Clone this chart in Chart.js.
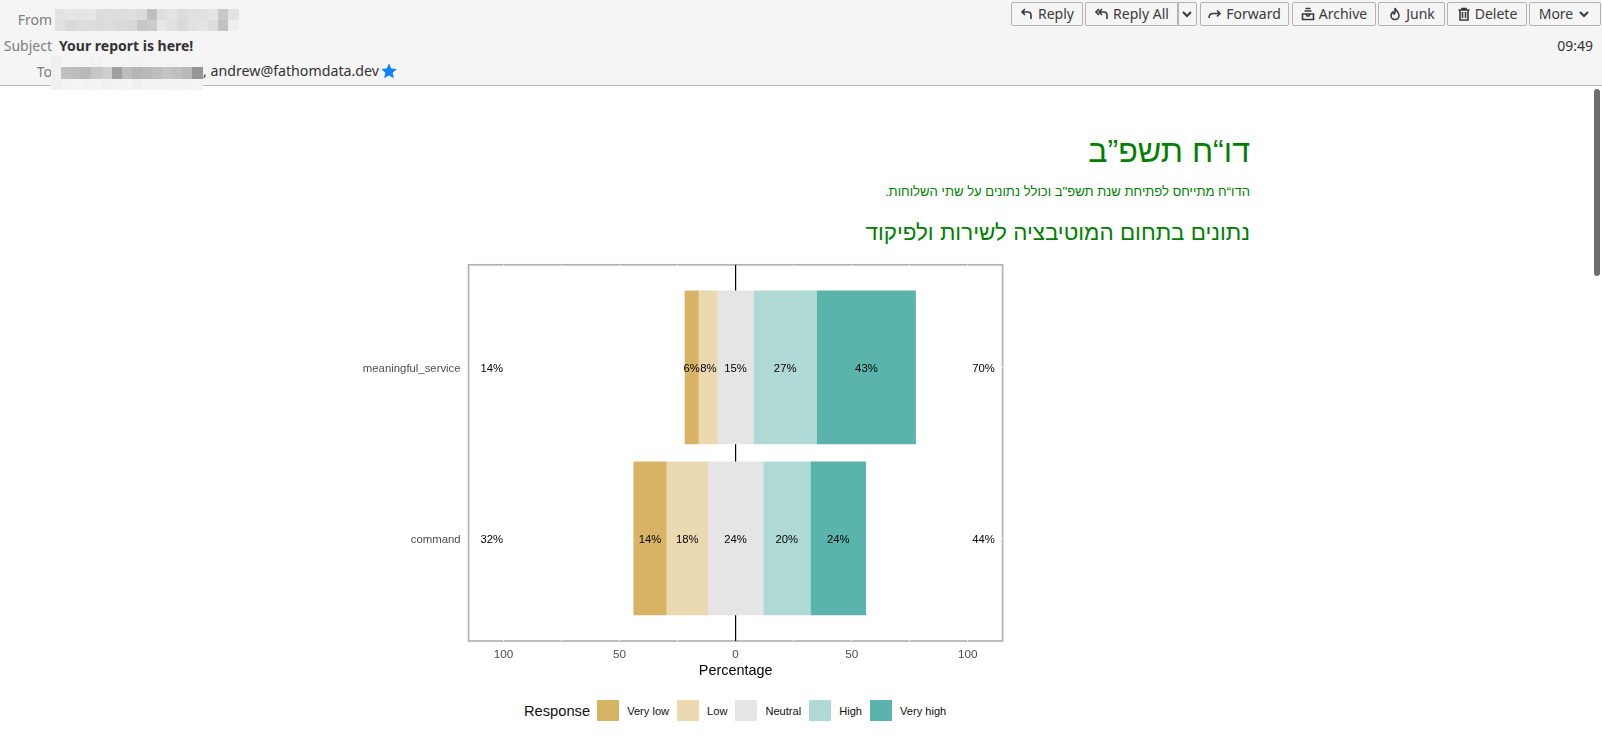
<!DOCTYPE html>
<html>
<head>
<meta charset="utf-8">
<title>Your report is here!</title>
<script src="https://cdn.jsdelivr.net/npm/chart.js"></script>
<style>
  html, body { margin: 0; height: 100%; overflow: hidden; background: #fff; }
  body { position: relative; width: 1602px; height: 738px; font-family: "Noto Sans", sans-serif; }
  #header { position: absolute; left: 0; top: 0; width: 1602px; height: 85px; background: #f5f5f5; border-bottom: 1px solid #b9b9b9; font-size: 14px; color: #333; }
  .field { position: absolute; line-height: 20px; white-space: nowrap; }
  .name { color: #7d7d7d; text-align: right; width: 52px; left: 0; }
  .btn { position: absolute; top: 2px; height: 22px; box-sizing: content-box; border: 1px solid #b4b4b4; border-radius: 2px; display: flex; align-items: center; justify-content: center; gap: 4px; color: #3a3a3a; line-height: 22px; white-space: nowrap; }
  .btn svg { width: 14px; height: 14px; fill: none; stroke: #3a3a3a; stroke-width: 1.6; }
  #mosaic { position: absolute; left: 0; top: 0; }
  #mosaic i { position: absolute; display: block; }
  .he { position: absolute; right: 352px; direction: rtl; color: #008000; font-family: "Liberation Sans", sans-serif; white-space: nowrap; line-height: 1; }
  #chartWrap { position: absolute; left: 340px; top: 250px; width: 700px; height: 436px; }
  #legend { position: absolute; left: 524px; top: 700px; height: 21px; display: flex; align-items: center; gap: 8px; font-family: "Liberation Sans", sans-serif; font-size: 11.1px; color: #111; white-space: nowrap; }
  #legend b { font-weight: normal; font-size: 14.7px; margin-right: -1px; }
  #legend i { display: block; width: 22px; height: 21px; }
  #scroll { position: absolute; left: 1594px; top: 89px; width: 6px; height: 187px; border-radius: 3px; background: #6e6e6e; }
</style>
</head>
<body>

<div id="header">
  <div class="field name" style="top:10px">From</div>
  <div class="field name" style="top:36px">Subject</div>
  <div class="field name" style="top:62px">To</div>
  <div class="field" style="left:59px;top:36px;font-weight:700">Your report is here!</div>
  <div class="field" style="left:203px;top:61px;font-size:14.2px">, andrew@fathomdata.dev</div>
  <svg style="position:absolute;left:381px;top:63px;width:16px;height:16px" viewBox="0 0 16 16"><path fill="#0a84ff" d="M8 .5l2.3 5 5.4.6-4 3.7 1.1 5.4L8 12.5l-4.800 2.700 1.100-5.400-4-3.700 5.400-.6z"/></svg>
  <div class="field" style="right:9px;top:36px">09:49</div>

  <div class="btn" style="left:1011px;width:70px"><svg viewBox="0 0 14 14"><path d="M5 2L2 5l3 3M2 5h6c2.500 0 3 2 3 3.500V12"/></svg>Reply</div>
  <div class="btn" style="left:1085px;width:92px"><svg viewBox="0 0 14 14"><path d="M4 2L1 5l3 3M7 2L4 5l3 3M4 5h5c2.500 0 3 2 3 3.500V12"/></svg>Reply All</div>
  <div class="btn" style="left:1177px;width:18px;border-left-color:#b4b4b4"><svg viewBox="0 0 14 14" style="stroke-width:2"><path d="M3 5l4 4 4-4"/></svg></div>
  <div class="btn" style="left:1200px;width:87px"><svg viewBox="0 0 14 14"><path d="M1 11c0-3 2-4.500 4-4.500h7M9 3.500l3 3-3 3"/></svg>Forward</div>
  <div class="btn" style="left:1292px;width:82px"><svg viewBox="0 0 14 14"><path d="M1.500 7v5.500h11V7zM1.500 7h3.500l1 2h2l1-2h3.500M3.500 4h7M4.500 1.500h5"/></svg>Archive</div>
  <div class="btn" style="left:1378px;width:65px"><svg viewBox="0 0 14 14"><path d="M7 1c1 3 4 4 4 7.500a4 4 0 0 1-8 0C3 6.500 4 5.500 5 5c0 1.500 1 2 1.500 2C7.500 5 7 3 7 1z"/></svg>Junk</div>
  <div class="btn" style="left:1447px;width:78px"><svg viewBox="0 0 14 14"><path d="M1.500 3h11M5 3V1.500h4V3M3 3v10h8V3M5.500 5v6M8.500 5v6"/></svg>Delete</div>
  <div class="btn" style="left:1529px;width:70px">More <svg viewBox="0 0 14 14" style="stroke-width:2"><path d="M3 5l4 4 4-4"/></svg></div>
</div>

<div id="mosaic"></div>

<div class="he" style="top:135px;font-size:32.2px">דו“ח תשפ”ב</div>
<div class="he" style="top:185px;font-size:13.1px">הדו“ח מתייחס לפתיחת שנת תשפ"ב וכולל נתונים על שתי השלוחות.</div>
<div class="he" style="top:222px;font-size:22.4px">נתונים בתחום המוטיבציה לשירות ולפיקוד</div>

<div id="chartWrap"><canvas id="likert" width="700" height="436"></canvas></div>
<div id="legend"></div>
<div id="scroll"></div>

<script>
// Chart data
const categories = ['meaningful_service', 'command'];
const responses = ['Very low', 'Low', 'Neutral', 'High', 'Very high'];
const veryLow = [6.1, 14.3];
const low = [8.2, 17.8];
const neutral = [15.3, 23.8];
const high = [27.4, 20.3];
const veryHigh = [42.6, 24.0];
const xTicks = [-100, -75, -50, -25, 0, 25, 50, 75, 100];
const colors = ['#d8b365', '#ebd9b2', '#e5e5e5', '#aed9d5', '#5ab4ac'];

// Redacted address blocks in the mail header
const fromTop = ['e2','e6','e4','e6','dc','dd','dd','de','db','bf','de','e3','dc','e0','e1','e4','c8','e2'];
const fromBottom = ['e0','d8','dd','dc','db','dc','d9','d8','c7','cb','e6','e0','da','e1','e4','dd','c2','ee'];
const toTop = ['ee','f4','f4','f4','f2','f5','f4','f4','f3','f4','f5','f4','f4','f4','f5'];
const toMiddle = ['f0','c0','bd','b9','c6','ce','9f','bd','b5','b8','bd','c3','bf','b9','96'];
const toBottom = ['f0','f2','f5','f3','f4','f1','f3','f4','f0','f3','f3','f3','f4','f3','f4'];

function addMosaic(cells, left, top, w, h) {
  const box = document.getElementById('mosaic');
  cells.forEach((c, i) => {
    const el = document.createElement('i');
    el.style.cssText = `left:${left + i * w}px;top:${top}px;width:${w + 0.5}px;height:${h}px;background:#${c}${c}${c}`;
    box.appendChild(el);
  });
}
addMosaic(fromTop, 55, 9, 10.2, 11);
addMosaic(fromBottom, 55, 20, 10.2, 11);
addMosaic(toTop, 51, 56, 10.1, 11);
addMosaic(toMiddle, 51, 67, 10.1, 12);
addMosaic(toBottom, 51, 79, 10.1, 11);

// Neutral is centred on zero, the others stack out from it
function rowBounds(i) {
  const start = -neutral[i] / 2 - low[i] - veryLow[i];
  const parts = [veryLow[i], low[i], neutral[i], high[i], veryHigh[i]];
  let pos = start;
  return parts.map(p => {
    const seg = [pos, pos + p];
    pos += p;
    return seg;
  });
}

const datasets = responses.map((name, s) => ({
  label: name,
  backgroundColor: colors[s],
  data: categories.map((c, i) => ({ y: i, x: rowBounds(i)[s] })),
  barPercentage: 0.9,
  categoryPercentage: 1,
  grouped: false
}));

const FONT = '"Liberation Sans", sans-serif';

// Panel border goes first so the white grid cuts small notches in it
const panelPlugin = {
  id: 'panel',
  beforeDraw(chart) {
    const a = chart.chartArea, ctx = chart.ctx;
    ctx.save();
    ctx.strokeStyle = '#b3b3b3';
    ctx.lineWidth = 1.7;
    ctx.strokeRect(a.left, a.top, a.right - a.left, a.bottom - a.top);
    ctx.restore();
  },
  beforeDatasetsDraw(chart) {
    const a = chart.chartArea, ctx = chart.ctx;
    const x0 = chart.scales.x.getPixelForValue(0);
    ctx.save();
    ctx.strokeStyle = '#000';
    ctx.lineWidth = 1.2;
    ctx.beginPath();
    ctx.moveTo(x0, a.top);
    ctx.lineTo(x0, a.bottom);
    ctx.stroke();
    ctx.restore();
  }
};

// Percent labels inside segments and the side totals
const labelPlugin = {
  id: 'percentLabels',
  afterDatasetsDraw(chart) {
    const { x: xs, y: ys } = chart.scales, ctx = chart.ctx;
    ctx.save();
    ctx.font = '11.3px ' + FONT;
    ctx.fillStyle = '#000';
    ctx.textAlign = 'center';
    ctx.textBaseline = 'middle';
    categories.forEach((c, i) => {
      const y = ys.getPixelForValue(i) + 1;
      rowBounds(i).forEach(seg => {
        ctx.fillText(Math.round(seg[1] - seg[0]) + '%', xs.getPixelForValue((seg[0] + seg[1]) / 2), y);
      });
      ctx.fillText(Math.round(veryLow[i] + low[i]) + '%', xs.getPixelForValue(-105), y);
      ctx.fillText(Math.round(high[i] + veryHigh[i]) + '%', xs.getPixelForValue(106.8), y);
    });
    ctx.restore();
  }
};

new Chart(document.getElementById('likert'), {
  type: 'bar',
  data: { datasets },
  plugins: [panelPlugin, labelPlugin],
  options: {
    indexAxis: 'y',
    responsive: false,
    animation: false,
    layout: { padding: { top: 14.5, right: 37.4, left: 0, bottom: 0 } },
    plugins: { legend: { display: false }, tooltip: { enabled: false } },
    scales: {
      x: {
        type: 'linear',
        min: -115,
        max: 115,
        afterBuildTicks: s => { s.ticks = xTicks.map(v => ({ value: v })); },
        afterFit: s => { s.height = 45; },
        grid: { color: '#fff', lineWidth: 1, drawTicks: false },
        border: { display: false },
        ticks: {
          autoSkip: false,
          maxRotation: 0,
          padding: 7,
          color: '#4d4d4d',
          font: { family: FONT, size: 11.7 },
          callback: v => (v % 50 === 0 ? String(Math.abs(v)) : '')
        },
        title: {
          display: true,
          text: 'Percentage',
          color: '#000',
          font: { family: FONT, size: 14.4 },
          padding: { top: 0, bottom: 6.5 }
        }
      },
      y: {
        type: 'linear',
        min: -0.6,
        max: 1.6,
        reverse: true,
        offset: false,
        afterBuildTicks: s => { s.ticks = categories.map((c, i) => ({ value: i })); },
        afterFit: s => { s.width = 128.6; },
        grid: { color: '#fff', lineWidth: 1, drawTicks: false, offset: false },
        border: { display: false },
        ticks: {
          autoSkip: false,
          padding: 8,
          labelOffset: 1,
          color: '#4d4d4d',
          font: { family: FONT, size: 11.35 },
          callback: v => categories[v]
        }
      }
    }
  }
});

// Legend row under the chart
const legendEl = document.getElementById('legend');
legendEl.innerHTML = '<b>Response</b>' + responses.map((r, s) =>
  `<i style="background:${colors[s]}"></i><span>${r}</span>`).join('');
</script>
</body>
</html>
